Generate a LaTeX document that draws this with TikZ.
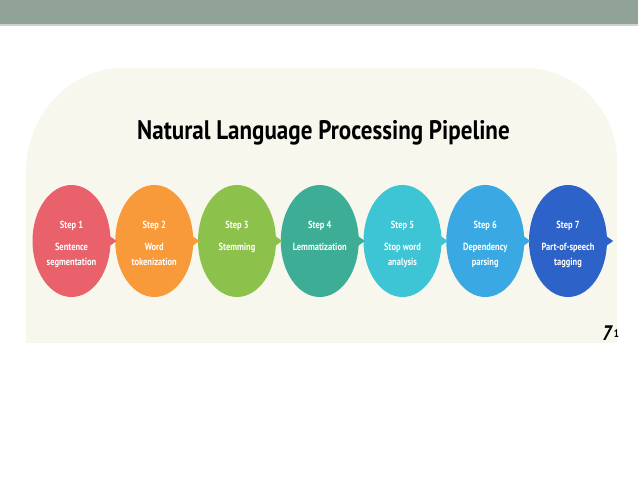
\documentclass[tikz,border=0pt]{standalone}
\usepackage{fontspec}
\usetikzlibrary{shapes.geometric,calc}
\newfontfamily\condfont[FakeStretch=0.82]{PT Sans}
\newfontfamily\titlefont[FakeStretch=0.86]{PT Sans}
\definecolor{band}{HTML}{91A396}
\definecolor{bandline}{HTML}{CCD3CD}
\definecolor{cream}{HTML}{F8F7EE}
\definecolor{cA}{HTML}{E9616B}
\definecolor{cB}{HTML}{F8993A}
\definecolor{cC}{HTML}{8CC24C}
\definecolor{cD}{HTML}{3DAE95}
\definecolor{cE}{HTML}{3DC5D6}
\definecolor{cF}{HTML}{3AA9E3}
\definecolor{cG}{HTML}{2D63C8}
\tikzset{
  stepnode/.style={ellipse, minimum width=78pt, minimum height=112pt, inner sep=0pt},
  steptext/.style={align=center, text=white, inner sep=0pt, anchor=north,
    font=\condfont\bfseries\fontsize{10.3}{15}\selectfont},
}
\newcommand{\pointer}[2]{\fill[#2] ($(#1.east)+(-4,-7)$) -- ($(#1.east)+(6,0)$) -- ($(#1.east)+(-4,7)$) -- cycle;}
\begin{document}
\begin{tikzpicture}[x=1pt,y=-1pt]
\useasboundingbox (0,0) rectangle (638,478);
\fill[white] (0,0) rectangle (638,478);
\fill[band] (0,0) rectangle (638,24);
\fill[bandline] (0,24) rectangle (638,26);
% cream panel
\fill[cream] (26,343) -- (26,172) .. controls (26,115) and (70,68) .. (122,68)
  -- (525,68) .. controls (575,68) and (617,110) .. (617,160) -- (617,343) -- cycle;
\node[font=\titlefont\bfseries\fontsize{26.8}{30}\selectfont] (title) at (323.5,133) {Natural Language Processing Pipeline};
\node[stepnode, fill=cA] (s1) at (71.5,241) {};
\node[stepnode, fill=cB] (s2) at (154.25,241) {};
\node[stepnode, fill=cC] (s3) at (237,241) {};
\node[stepnode, fill=cD] (s4) at (319.75,241) {};
\node[stepnode, fill=cE] (s5) at (402.5,241) {};
\node[stepnode, fill=cF] (s6) at (485.25,241) {};
\node[stepnode, fill=cG] (s7) at (568,241) {};
\node[steptext] (t1) at (71.5,220.5) {Step 1\\[7pt]Sentence\\segmentation};
\node[steptext] (t2) at (154.25,220.5) {Step 2\\[7pt]Word\\tokenization};
\node[steptext] (t3) at (237,220.5) {Step 3\\[7pt]Stemming};
\node[steptext] (t4) at (319.75,220.5) {Step 4\\[7pt]Lemmatization};
\node[steptext] (t5) at (402.5,220.5) {Step 5\\[7pt]Stop word\\analysis};
\node[steptext] (t6) at (485.25,220.5) {Step 6\\[7pt]Dependency\\parsing};
\node[steptext] (t7) at (568,220.5) {Step 7\\[7pt]Part-of-speech\\tagging};
\pointer{s1}{cA}
\pointer{s2}{cB}
\pointer{s3}{cC}
\pointer{s4}{cD}
\pointer{s5}{cE}
\pointer{s6}{cF}
\pointer{s7}{cG}
\node[font=\titlefont\bfseries\itshape\fontsize{21}{21}\selectfont, anchor=base] (seven) at (607,341) {7};
\node[font=\condfont\bfseries\fontsize{11}{11}\selectfont, anchor=base] (one) at (616.5,338) {1};
\end{tikzpicture}
\end{document}
